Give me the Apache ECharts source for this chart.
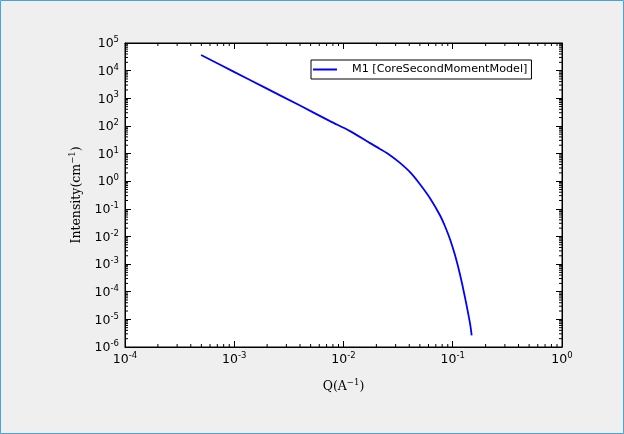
<!DOCTYPE html>
<html>
<head>
<meta charset="utf-8">
<script src="https://cdn.jsdelivr.net/npm/echarts@6/dist/echarts.min.js"></script>
<style>
html,body{margin:0;padding:0;background:#efefef;}
#c{width:624px;height:434px;}
</style>
</head>
<body>
<div id="c"></div>
<script>
// Data (Q in 1/A, Intensity in 1/cm)
const seriesName = 'M1 [CoreSecondMomentModel]';
const qValues = [4.97e-4, 9.75e-4, 1.91e-3, 4.0e-3, 7.52e-3, 1.148e-2, 1.75e-2, 2.158e-2, 2.667e-2, 3.289e-2, 4.064e-2, 5.012e-2, 6.194e-2, 7.638e-2, 8.492e-2, 9.441e-2, 0.1050, 0.1164, 0.1294, 0.1439, 0.149];
const intensity = [36700, 9440, 2420, 545, 149, 64.9, 23.8, 14.7, 8.75, 4.60, 2.12, 0.778, 0.242, 0.0586, 0.0234, 7.93e-3, 2.08e-3, 4.27e-4, 6.27e-5, 7.16e-6, 2.63e-6];
const xRange = [1e-4, 1];
const yRange = [1e-6, 1e5];

// minor tick positions (2..9 x 10^k)
function minors(lo, hi) {
  const out = [];
  for (let e = Math.round(Math.log10(lo)); e < Math.round(Math.log10(hi)); e++) {
    for (let m = 2; m <= 9; m++) out.push(m * Math.pow(10, e));
  }
  return out;
}
const xMinor = minors(xRange[0], xRange[1]);
const yMinor = minors(yRange[0], yRange[1]);

const chart = echarts.init(document.getElementById('c'));
const rich = {
  b: {fontSize: 12.5, fontFamily: 'DejaVu Sans', color: '#000', lineHeight: 15, verticalAlign: 'bottom'},
  s: {fontSize: 8.5, fontFamily: 'DejaVu Sans', color: '#000', lineHeight: 9, verticalAlign: 'top'}
};
function powLabel(v) {
  const e = Math.round(Math.log10(v));
  return '{b|10}{s|' + e + '}';
}
const nameRich = {
  n: {fontSize: 12.5, fontFamily: 'DejaVu Serif', color: '#000', lineHeight: 15, verticalAlign: 'bottom'},
  s: {fontSize: 8.5, fontFamily: 'DejaVu Serif', color: '#000', lineHeight: 9, verticalAlign: 'top'}
};
const tickLen = 6, minorLen = 3;

function baseAxis(extra) {
  return Object.assign({
    type: 'log',
    logBase: 10,
    axisLine: {show: true, lineStyle: {color: '#000', width: 1}},
    axisTick: {show: true, inside: true, length: tickLen, lineStyle: {color: '#000'}},
    splitLine: {show: false},
    minorTick: {show: false},
    minorSplitLine: {show: false}
  }, extra);
}

function minorRender(isX) {
  return function (params, api) {
    const v = api.value(0);
    let a, b;
    if (isX) {
      a = api.coord([v, yRange[0]]);
      b = api.coord([v, yRange[1]]);
      return {type: 'group', children: [
        {type: 'line', shape: {x1: a[0], y1: a[1], x2: a[0], y2: a[1] - minorLen}, style: {stroke: '#000', lineWidth: 1}},
        {type: 'line', shape: {x1: b[0], y1: b[1], x2: b[0], y2: b[1] + minorLen}, style: {stroke: '#000', lineWidth: 1}}
      ]};
    } else {
      a = api.coord([xRange[0], v]);
      b = api.coord([xRange[1], v]);
      return {type: 'group', children: [
        {type: 'line', shape: {x1: a[0], y1: a[1], x2: a[0] + minorLen, y2: a[1]}, style: {stroke: '#000', lineWidth: 1}},
        {type: 'line', shape: {x1: b[0], y1: b[1], x2: b[0] - minorLen, y2: b[1]}, style: {stroke: '#000', lineWidth: 1}}
      ]};
    }
  };
}

const option = {
  backgroundColor: '#efefef',
  animation: false,
  graphic: [{
    type: 'rect', silent: true,
    shape: {x: 0.5, y: 0.5, width: 623, height: 433},
    style: {fill: 'none', stroke: '#4aa3df', lineWidth: 1}
  }],
  grid: {
    left: 125, top: 43, width: 437, height: 304,
    show: true, backgroundColor: '#fff', borderColor: '#000', borderWidth: 1
  },
  legend: {
    data: [seriesName],
    left: 311, top: 60,
    backgroundColor: '#fff', borderColor: '#000', borderWidth: 1,
    padding: [4, 4, 4, 2],
    itemWidth: 24, itemHeight: 2,
    icon: 'rect',
    textStyle: {fontFamily: 'DejaVu Sans', fontSize: 11.2, color: '#000', padding: [0, 0, 0, 10]}
  },
  xAxis: [
    baseAxis({
      position: 'bottom', min: xRange[0], max: xRange[1], interval: 1,
      axisLabel: {margin: 4, formatter: powLabel, rich: rich},
      name: '{n|Q(A}{s|−1}{n|)}', nameLocation: 'middle', nameGap: 31,
      nameTextStyle: {rich: nameRich}
    }),
    baseAxis({position: 'top', min: xRange[0], max: xRange[1], interval: 1, axisLabel: {show: false}})
  ],
  yAxis: [
    baseAxis({
      position: 'left', min: yRange[0], max: yRange[1], interval: 1,
      axisLabel: {margin: 6, formatter: powLabel, rich: rich},
      name: '{n|Intensity(cm}{s|−1}{n|)}', nameLocation: 'middle', nameGap: 41,
      nameTextStyle: {rich: nameRich}
    }),
    baseAxis({position: 'right', min: yRange[0], max: yRange[1], interval: 1, axisLabel: {show: false}})
  ],
  series: [
    {
      name: seriesName, type: 'line',
      data: qValues.map((q, i) => [q, intensity[i]]),
      showSymbol: false, smooth: 0.3,
      lineStyle: {color: '#0000ff', width: 1.8},
      itemStyle: {color: '#0000ff'}
    },
    {type: 'custom', silent: true, data: xMinor.map(v => [v]), renderItem: minorRender(true), clip: false, encode: {x: 0}},
    {type: 'custom', silent: true, data: yMinor.map(v => [v]), renderItem: minorRender(false), clip: false, encode: {y: 0}}
  ]
};
chart.setOption(option);
</script>
</body>
</html>
